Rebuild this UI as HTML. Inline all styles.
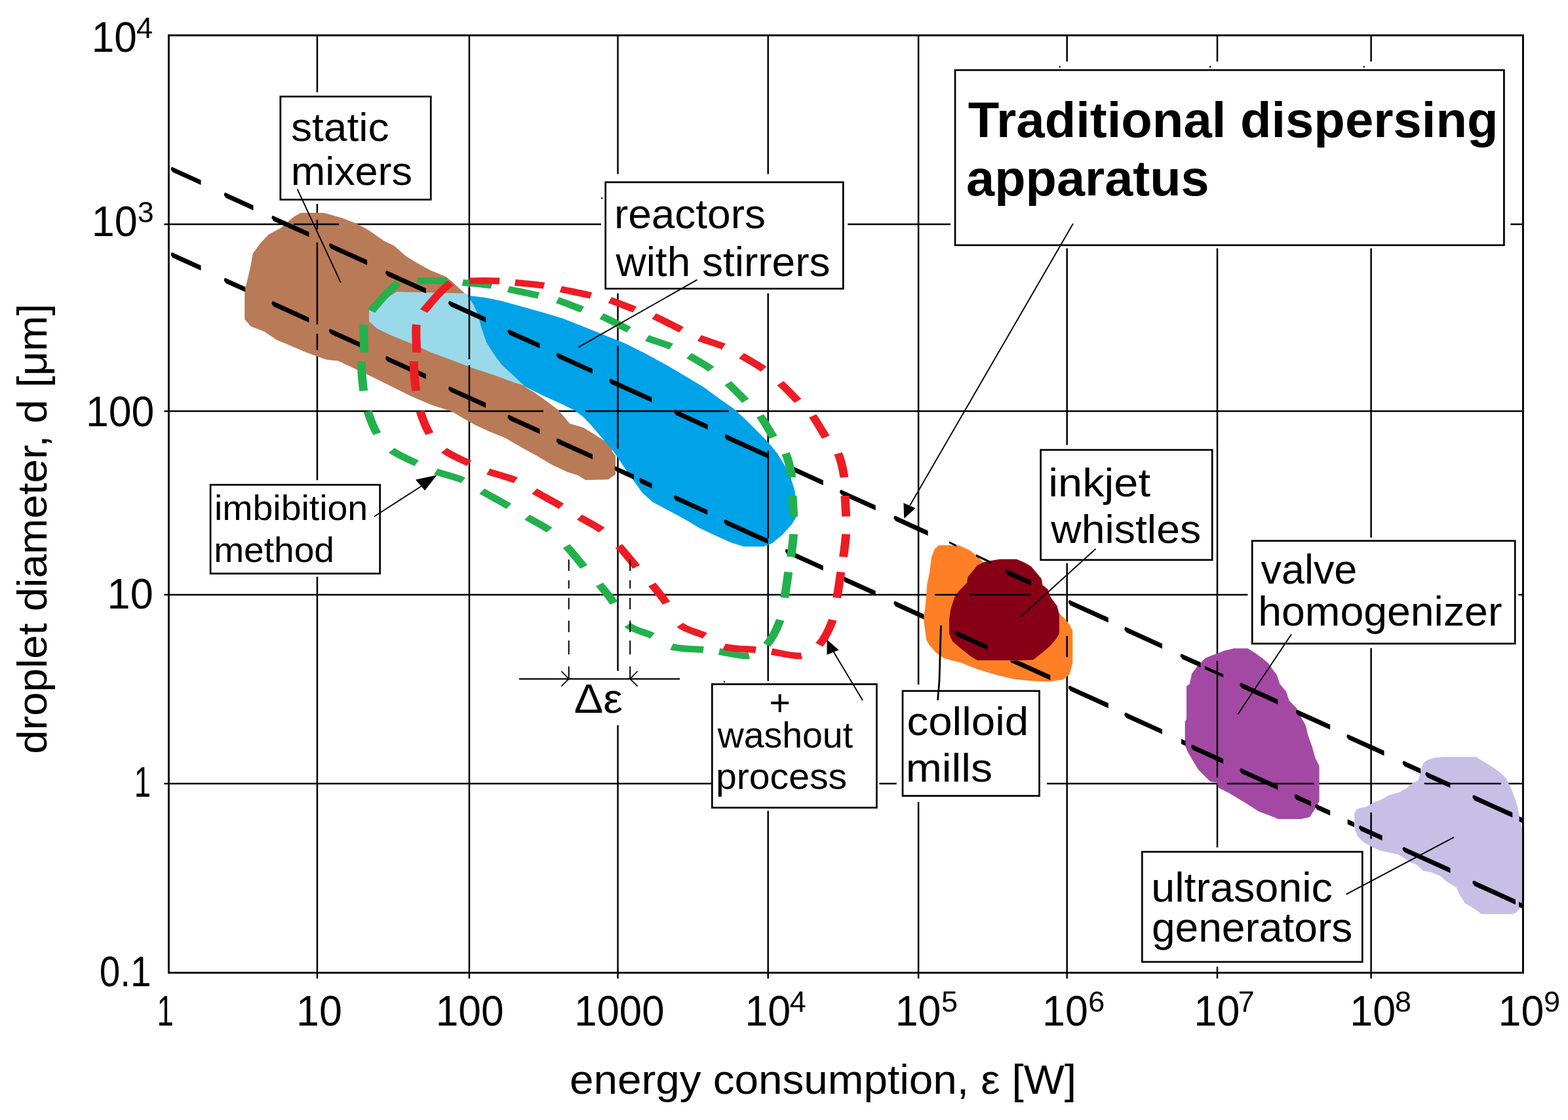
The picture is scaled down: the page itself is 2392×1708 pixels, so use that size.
<!DOCTYPE html>
<html lang="en"><head><meta charset="utf-8"><title>Traditional dispersing apparatus</title>
<style>
html,body{margin:0;padding:0;background:#fff;}
body{width:2392px;height:1708px;overflow:hidden;}
svg{display:block;font-family:'Liberation Sans', sans-serif;fill:#000;}
</style></head><body>
<svg width="2392" height="1708" viewBox="0 0 2392 1708">
<rect width="2392" height="1708" fill="#fff"/>
<line x1="483.9" y1="53.9" x2="483.9" y2="1492.3" stroke="#000" stroke-width="2.50" />
<line x1="715.9" y1="53.9" x2="715.9" y2="1492.3" stroke="#000" stroke-width="2.50" />
<line x1="942.5" y1="53.9" x2="942.5" y2="1492.3" stroke="#000" stroke-width="2.50" />
<line x1="1171.7" y1="53.9" x2="1171.7" y2="1492.3" stroke="#000" stroke-width="2.50" />
<line x1="1401.1" y1="53.9" x2="1401.1" y2="1492.3" stroke="#000" stroke-width="2.50" />
<line x1="1627.7" y1="53.9" x2="1627.7" y2="1492.3" stroke="#000" stroke-width="2.50" />
<line x1="1857.0" y1="53.9" x2="1857.0" y2="1492.3" stroke="#000" stroke-width="2.50" />
<line x1="2091.6" y1="53.9" x2="2091.6" y2="1492.3" stroke="#000" stroke-width="2.50" />
<line x1="250.4" y1="341.9" x2="2323.4" y2="341.9" stroke="#000" stroke-width="2.50" />
<line x1="250.4" y1="627.1" x2="2323.4" y2="627.1" stroke="#000" stroke-width="2.50" />
<line x1="250.4" y1="907.1" x2="2323.4" y2="907.1" stroke="#000" stroke-width="2.50" />
<line x1="250.4" y1="1195.1" x2="2323.4" y2="1195.1" stroke="#000" stroke-width="2.50" />
<rect x="257.4" y="53.9" width="2066.0" height="1429.5" fill="none" stroke="#000" stroke-width="2.9"/>
<path d="M458.7 324.5 L493.5 324.5 L522.0 332.4 L544.0 341.0 L561.5 350.6 L586.8 368.0 L601.0 374.4 L618.5 390.0 L632.7 399.0 L656.5 412.3 L680.0 421.8 L690.0 430.0 L704.0 442.7 L712.0 450.6 L760.0 520.0 L801.0 590.0 L814.0 597.7 L829.7 608.8 L842.4 618.3 L850.3 624.0 L858.2 633.0 L869.3 646.0 L890.0 652.0 L905.7 661.7 L920.0 671.0 L932.6 676.0 L934.0 688.6 L939.0 695.0 L939.0 723.4 L927.8 731.3 L893.0 732.0 L882.0 725.0 L866.0 720.0 L842.4 709.0 L818.7 695.0 L795.0 682.0 L771.0 668.0 L747.5 658.5 L723.7 647.5 L700.0 634.0 L690.0 627.8 L658.2 617.6 L626.6 604.1 L595.0 588.3 L563.3 572.5 L539.6 561.4 L515.8 550.3 L498.2 548.4 L466.6 537.3 L441.3 526.3 L422.3 518.4 L403.3 505.7 L382.7 497.8 L373.2 486.7 L373.2 442.4 L376.4 431.3 L381.9 407.6 L385.9 386.2 L398.5 369.6 L409.6 357.8 L428.6 347.5 L447.6 330.9Z" fill="#b97a57" />
<path d="M605.0 445.0 L712.0 447.5 L721.5 463.3 L729.4 479.1 L734.0 498.0 L742.0 521.8 L753.0 539.2 L765.8 556.6 L781.6 570.9 L800.6 588.3 L784.8 583.5 L753.0 571.7 L721.5 561.4 L690.0 549.5 L658.2 537.7 L626.6 523.4 L595.0 510.8 L575.0 501.0 L563.0 490.0 L563.0 472.0Z" fill="#99d9ea" />
<path d="M712.7 450.6 L739.6 453.7 L763.3 458.5 L795.0 467.2 L826.6 475.9 L858.2 485.4 L890.0 498.0 L921.5 510.7 L953.2 523.4 L984.8 539.2 L1016.5 556.6 L1042.4 571.8 L1074.0 590.8 L1097.8 608.2 L1118.4 622.4 L1137.3 639.8 L1156.3 658.8 L1172.0 674.6 L1186.8 692.7 L1196.3 708.5 L1205.8 727.5 L1212.0 746.5 L1215.3 768.6 L1215.3 787.6 L1207.4 800.3 L1193.0 816.0 L1177.3 828.7 L1164.7 833.5 L1134.6 833.5 L1114.0 827.0 L1090.0 816.0 L1066.6 805.0 L1042.8 790.8 L1019.0 778.0 L995.4 765.4 L979.6 751.2 L968.5 735.4 L955.8 718.0 L940.5 695.0 L932.6 684.0 L918.4 668.0 L901.0 647.5 L890.0 636.0 L877.2 626.2 L858.2 616.7 L826.6 602.5 L801.3 589.8 L781.6 570.9 L765.8 556.6 L753.0 539.2 L742.0 521.8 L734.0 498.0 L729.4 479.1 L721.5 463.3Z" fill="#00a2e8" />
<path d="M1432.2 831.4 L1462.3 831.4 L1478.0 838.5 L1490.8 848.0 L1500.0 857.5 L1560.0 900.0 L1614.0 933.4 L1623.7 943.0 L1631.6 952.4 L1636.3 962.0 L1636.3 1011.0 L1631.6 1028.4 L1622.0 1036.3 L1601.5 1039.4 L1574.6 1038.6 L1546.0 1035.5 L1522.4 1030.0 L1490.8 1020.4 L1467.0 1011.0 L1440.0 1003.8 L1427.5 995.0 L1418.0 984.0 L1413.2 976.0 L1410.0 952.4 L1408.5 941.3 L1410.9 930.3 L1413.2 908.0 L1414.0 892.3 L1418.0 873.3 L1421.0 849.6 L1425.9 837.0Z" fill="#ff7f27" />
<path d="M1500.3 857.5 L1511.3 855.0 L1525.6 852.7 L1550.9 852.7 L1562.0 857.5 L1573.0 863.8 L1581.0 873.3 L1588.9 882.8 L1590.4 892.3 L1598.4 898.6 L1603.0 911.3 L1612.6 924.0 L1615.8 936.6 L1615.8 966.6 L1611.0 974.6 L1601.5 985.6 L1590.4 995.0 L1576.2 1006.2 L1554.0 1007.0 L1490.8 1007.0 L1479.7 999.9 L1465.4 988.8 L1452.8 977.7 L1448.0 966.6 L1448.0 944.5 L1450.4 928.7 L1456.0 911.3 L1462.3 901.8 L1474.9 889.0 L1476.5 879.6 L1486.0 868.5 L1490.8 862.2Z" fill="#880015" />
<path d="M1882.8 988.7 L1903.4 988.7 L1914.5 995.8 L1925.6 1003.7 L1935.0 1011.6 L1941.4 1021.0 L1947.7 1029.0 L1952.5 1043.3 L1962.0 1054.4 L1966.7 1068.6 L1977.8 1079.7 L1985.7 1095.5 L1992.0 1106.6 L1995.2 1120.8 L2001.5 1138.2 L2006.3 1155.6 L2012.6 1168.3 L2012.6 1222.0 L2006.3 1233.2 L1998.0 1246.0 L1985.0 1249.0 L1950.0 1249.0 L1935.0 1243.0 L1919.2 1237.0 L1906.6 1228.4 L1890.8 1219.0 L1875.0 1209.4 L1859.0 1201.5 L1856.0 1193.6 L1846.5 1192.0 L1840.0 1185.7 L1827.5 1173.0 L1821.0 1162.0 L1811.6 1146.0 L1807.7 1136.6 L1807.7 1100.3 L1810.0 1097.0 L1810.0 1046.5 L1814.8 1043.3 L1818.0 1027.5 L1827.5 1014.8 L1838.5 1003.7 L1848.0 999.8 L1859.0 995.8 L1868.6 991.9Z" fill="#a349a4" />
<path d="M2202.9 1154.2 L2252.0 1154.2 L2264.6 1162.2 L2277.3 1170.0 L2288.3 1178.0 L2297.8 1187.5 L2304.0 1200.0 L2310.5 1216.0 L2315.2 1231.8 L2318.4 1247.6 L2321.5 1263.4 L2324.5 1266.6 L2324.5 1374.0 L2316.8 1386.8 L2313.6 1391.6 L2307.3 1394.0 L2259.8 1394.0 L2250.4 1386.8 L2234.5 1377.3 L2225.0 1361.5 L2221.9 1353.6 L2206.0 1344.0 L2198.0 1336.2 L2182.3 1329.9 L2171.2 1328.3 L2161.7 1318.8 L2152.3 1315.6 L2142.8 1309.3 L2133.3 1303.0 L2117.4 1299.8 L2103.2 1296.6 L2090.5 1290.3 L2079.5 1284.0 L2071.6 1276.0 L2066.8 1265.0 L2066.0 1241.3 L2070.0 1233.4 L2084.2 1230.2 L2095.3 1223.9 L2108.0 1219.0 L2119.0 1212.8 L2134.8 1208.0 L2145.9 1201.7 L2155.4 1193.8 L2163.3 1190.6 L2166.5 1179.6 L2171.2 1163.7 L2177.6 1159.0 L2187.0 1155.8Z" fill="#c8bfe7" />
<line x1="448.0" y1="341.9" x2="517.0" y2="341.9" stroke="#000" stroke-width="2.50" />
<line x1="483.9" y1="335.0" x2="483.9" y2="350.0" stroke="#000" stroke-width="2.50" />
<line x1="483.9" y1="369.6" x2="483.9" y2="494.6" stroke="#000" stroke-width="2.50" />
<line x1="483.9" y1="509.0" x2="483.9" y2="534.0" stroke="#000" stroke-width="2.50" />
<line x1="715.9" y1="439.5" x2="715.9" y2="547.9" stroke="#000" stroke-width="2.50" />
<line x1="715.9" y1="556.6" x2="715.9" y2="628.1" stroke="#000" stroke-width="2.50" />
<line x1="714.7" y1="627.1" x2="829.0" y2="627.1" stroke="#000" stroke-width="2.50" />
<line x1="893.0" y1="627.1" x2="1112.0" y2="627.1" stroke="#000" stroke-width="2.50" />
<line x1="942.5" y1="527.3" x2="942.5" y2="684.3" stroke="#000" stroke-width="2.50" />
<line x1="1171.7" y1="687.0" x2="1171.7" y2="820.8" stroke="#000" stroke-width="2.50" />
<line x1="1425.9" y1="907.1" x2="1461.5" y2="907.1" stroke="#000" stroke-width="2.50" />
<line x1="1479.7" y1="907.1" x2="1573.0" y2="907.1" stroke="#000" stroke-width="2.50" />
<line x1="1627.7" y1="969.8" x2="1627.7" y2="1002.2" stroke="#000" stroke-width="2.50" />
<line x1="1857.0" y1="1007.7" x2="1857.0" y2="1185.7" stroke="#000" stroke-width="2.50" />
<line x1="1871.8" y1="1195.1" x2="2004.7" y2="1195.1" stroke="#000" stroke-width="2.50" />
<line x1="2172.8" y1="1195.1" x2="2290.0" y2="1195.1" stroke="#000" stroke-width="2.50" />
<line x1="2091.6" y1="1238.9" x2="2091.6" y2="1279.2" stroke="#000" stroke-width="2.50" />
<line x1="2323.4" y1="1260.0" x2="2323.4" y2="1380.0" stroke="#000" stroke-width="2.90" />
<path d="M260.7 256.4 L262.2 254.4 L306.5 274.4 L306.5 282.1 L263.2 262.5 L262.2 260.6 L260.7 259.1Z" fill="#000" />
<path d="M341.9 295.5 L343.4 293.5 L386.5 313.0 L386.5 320.7 L344.4 301.7 L343.4 299.7 L341.9 298.2Z" fill="#000" />
<path d="M414.5 330.7 L416.0 328.7 L471.5 353.8 L471.5 361.5 L417.0 336.9 L416.0 334.9 L414.5 333.4Z" fill="#000" />
<path d="M502.0 372.9 L503.5 370.9 L560.1 396.5 L560.1 404.2 L504.5 379.1 L503.5 377.1 L502.0 375.6Z" fill="#000" />
<path d="M588.2 414.6 L589.7 412.6 L650.0 439.8 L650.0 447.5 L590.7 420.7 L589.7 418.8 L588.2 417.3Z" fill="#000" />
<path d="M684.2 460.8 L685.7 458.8 L741.1 483.8 L741.1 491.5 L686.7 466.9 L685.7 465.0 L684.2 463.5Z" fill="#000" />
<path d="M774.5 504.2 L776.0 502.2 L823.4 523.6 L823.4 531.3 L777.0 510.4 L776.0 508.4 L774.5 506.9Z" fill="#000" />
<path d="M848.8 540.1 L850.3 538.1 L904.0 562.4 L904.0 570.1 L851.3 546.3 L850.3 544.3 L848.8 542.8Z" fill="#000" />
<path d="M929.5 579.2 L931.0 577.2 L994.3 605.8 L994.3 613.5 L932.0 585.4 L931.0 583.4 L929.5 581.9Z" fill="#000" />
<path d="M1028.2 626.6 L1029.7 624.6 L1079.6 647.2 L1079.6 654.9 L1030.7 632.8 L1029.7 630.8 L1028.2 629.3Z" fill="#000" />
<path d="M1105.8 664.3 L1107.3 662.3 L1171.4 691.2 L1171.4 698.9 L1108.3 670.4 L1107.3 668.5 L1105.8 667.0Z" fill="#000" />
<path d="M1209.1 713.8 L1210.6 711.8 L1255.7 732.2 L1255.7 739.9 L1211.6 719.9 L1210.6 718.0 L1209.1 716.5Z" fill="#000" />
<path d="M1281.2 748.7 L1282.7 746.7 L1335.7 770.6 L1335.7 778.3 L1283.7 754.8 L1282.7 752.9 L1281.2 751.4Z" fill="#000" />
<path d="M1363.5 788.3 L1365.0 786.3 L1415.6 809.2 L1415.6 816.9 L1366.0 794.5 L1365.0 792.5 L1363.5 791.0Z" fill="#000" />
<path d="M1534.4 870.6 L1535.9 868.6 L1573.0 885.3 L1573.0 893.0 L1536.9 876.7 L1535.9 874.8 L1534.4 873.3Z" fill="#000" />
<path d="M1629.9 917.0 L1631.4 915.0 L1690.8 941.8 L1690.8 949.5 L1632.4 923.1 L1631.4 921.2 L1629.9 919.7Z" fill="#000" />
<path d="M1715.4 958.1 L1716.9 956.1 L1773.0 981.5 L1773.0 989.2 L1717.9 964.3 L1716.9 962.3 L1715.4 960.8Z" fill="#000" />
<path d="M1800.8 998.9 L1802.3 996.9 L1831.5 1010.1 L1831.5 1017.8 L1803.3 1005.1 L1802.3 1003.1 L1800.8 1001.6Z" fill="#000" />
<path d="M1891.5 1043.1 L1893.0 1041.1 L1949.3 1066.5 L1949.3 1074.2 L1894.0 1049.2 L1893.0 1047.3 L1891.5 1045.8Z" fill="#000" />
<path d="M1977.1 1084.3 L1978.6 1082.3 L2029.2 1105.1 L2029.2 1112.8 L1979.6 1090.4 L1978.6 1088.5 L1977.1 1087.0Z" fill="#000" />
<path d="M2054.5 1121.7 L2056.0 1119.7 L2111.5 1144.8 L2111.5 1152.5 L2057.0 1127.8 L2056.0 1125.9 L2054.5 1124.4Z" fill="#000" />
<path d="M2139.7 1162.3 L2141.2 1160.3 L2167.3 1172.1 L2167.3 1179.8 L2142.2 1168.5 L2141.2 1166.5 L2139.7 1165.0Z" fill="#000" />
<path d="M2174.5 1179.3 L2176.0 1177.3 L2212.4 1193.7 L2212.4 1201.4 L2177.0 1185.4 L2176.0 1183.5 L2174.5 1182.0Z" fill="#000" />
<path d="M2246.5 1214.3 L2248.0 1212.3 L2307.3 1239.1 L2307.3 1246.8 L2249.0 1220.5 L2248.0 1218.5 L2246.5 1217.0Z" fill="#000" />
<path d="M2317.6 1245.1 L2323.6 1247.8 L2323.6 1255.5 L2317.6 1252.8Z" fill="#000" />
<path d="M260.7 386.8 L262.2 384.8 L306.5 404.8 L306.5 412.5 L263.2 392.9 L262.2 391.0 L260.7 389.5Z" fill="#000" />
<path d="M341.9 425.7 L343.4 423.7 L374.2 437.6 L374.2 445.3 L344.4 431.9 L343.4 429.9 L341.9 428.4Z" fill="#000" />
<path d="M414.5 461.1 L416.0 459.1 L471.5 484.2 L471.5 491.9 L417.0 467.3 L416.0 465.3 L414.5 463.8Z" fill="#000" />
<path d="M502.0 503.2 L503.5 501.2 L549.0 521.7 L549.0 529.4 L504.5 509.3 L503.5 507.4 L502.0 505.9Z" fill="#000" />
<path d="M588.2 545.0 L589.7 543.0 L650.0 570.2 L650.0 577.9 L590.7 551.1 L589.7 549.2 L588.2 547.7Z" fill="#000" />
<path d="M684.2 591.2 L685.7 589.2 L741.1 614.2 L741.1 621.9 L686.7 597.3 L685.7 595.4 L684.2 593.9Z" fill="#000" />
<path d="M774.5 634.6 L776.0 632.6 L823.4 654.0 L823.4 661.7 L777.0 640.8 L776.0 638.8 L774.5 637.3Z" fill="#000" />
<path d="M848.8 670.5 L850.3 668.5 L904.0 692.8 L904.0 700.5 L851.3 676.7 L850.3 674.7 L848.8 673.2Z" fill="#000" />
<path d="M937.5 712.9 L939.0 710.9 L967.0 723.6 L967.0 731.3 L940.0 719.1 L939.0 717.1 L937.5 715.6Z" fill="#000" />
<path d="M974.9 730.8 L976.4 728.8 L994.6 737.1 L994.6 744.8 L977.4 737.0 L976.4 735.0 L974.9 733.5Z" fill="#000" />
<path d="M1027.9 756.9 L1029.4 754.9 L1079.2 777.4 L1079.2 785.1 L1030.4 763.0 L1029.4 761.1 L1027.9 759.6Z" fill="#000" />
<path d="M1104.5 794.1 L1106.0 792.1 L1171.7 821.7 L1171.7 829.4 L1107.0 800.2 L1106.0 798.3 L1104.5 796.8Z" fill="#000" />
<path d="M1198.0 839.0 L1199.5 837.0 L1255.7 862.4 L1255.7 870.1 L1200.5 845.2 L1199.5 843.2 L1198.0 841.7Z" fill="#000" />
<path d="M1286.0 881.3 L1287.5 879.3 L1335.7 901.1 L1335.7 908.8 L1288.5 887.5 L1287.5 885.5 L1286.0 884.0Z" fill="#000" />
<path d="M1363.5 918.6 L1365.0 916.6 L1409.3 936.7 L1409.3 944.4 L1366.0 924.8 L1365.0 922.8 L1363.5 921.3Z" fill="#000" />
<path d="M1456.8 963.7 L1458.3 961.7 L1506.6 983.5 L1506.6 991.2 L1459.3 969.9 L1458.3 967.9 L1456.8 966.4Z" fill="#000" />
<path d="M1629.9 1047.4 L1631.4 1045.4 L1690.8 1072.2 L1690.8 1079.9 L1632.4 1053.5 L1631.4 1051.6 L1629.9 1050.1Z" fill="#000" />
<path d="M1715.4 1088.5 L1716.9 1086.5 L1773.0 1111.9 L1773.0 1119.6 L1717.9 1094.7 L1716.9 1092.7 L1715.4 1091.2Z" fill="#000" />
<path d="M1802.0 1126.8 L1808.5 1129.8 L1808.5 1137.5 L1802.0 1134.5Z" fill="#000" />
<path d="M1817.3 1137.6 L1818.8 1135.6 L1866.2 1157.0 L1866.2 1164.7 L1819.8 1143.7 L1818.8 1141.8 L1817.3 1140.3Z" fill="#000" />
<path d="M1891.5 1173.5 L1893.0 1171.5 L1949.3 1196.9 L1949.3 1204.6 L1894.0 1179.6 L1893.0 1177.7 L1891.5 1176.2Z" fill="#000" />
<path d="M1974.7 1213.1 L1976.2 1211.1 L2000.0 1221.9 L2000.0 1229.6 L1977.2 1219.3 L1976.2 1217.3 L1974.7 1215.8Z" fill="#000" />
<path d="M2006.3 1228.3 L2007.8 1226.3 L2029.2 1236.0 L2029.2 1243.7 L2008.8 1234.5 L2007.8 1232.5 L2006.3 1231.0Z" fill="#000" />
<path d="M2055.7 1249.3 L2066.0 1253.9 L2066.0 1261.6 L2055.7 1257.0Z" fill="#000" />
<path d="M2073.2 1260.8 L2074.7 1258.8 L2108.7 1274.1 L2108.7 1281.8 L2075.7 1266.9 L2074.7 1265.0 L2073.2 1263.5Z" fill="#000" />
<path d="M2139.7 1293.4 L2141.2 1291.4 L2212.4 1323.6 L2212.4 1331.3 L2142.2 1299.6 L2141.2 1297.6 L2139.7 1296.1Z" fill="#000" />
<path d="M2246.5 1344.8 L2248.0 1342.8 L2312.0 1371.7 L2312.0 1379.4 L2249.0 1351.0 L2248.0 1349.0 L2246.5 1347.5Z" fill="#000" />
<path d="M2317.0 1375.2 L2323.6 1378.2 L2323.6 1385.9 L2317.0 1382.9Z" fill="#000" />
<clipPath id="cw"><rect x="1530" y="1007.5" width="90" height="40"/></clipPath><g clip-path="url(#cw)">
<path d="M1541.4 1002.0 L1602.3 1029.5 L1602.3 1037.2 L1541.4 1009.7Z" fill="#000" />
</g>
<path d="M1837.8 1015.4 L1866.2 1028.2 L1866.2 1033.2 L1837.8 1020.4Z" fill="#000" />
<path d="M1448.0 825.5 L1459.0 830.8 L1459.0 833.8 L1448.0 828.5Z" fill="#000" />
<path d="M1489.0 845.2 L1511.5 856.1 L1511.5 859.6 L1489.0 848.7Z" fill="#000" />
<path transform="scale(1.300,1)" d="M427.23 537.5C427.74 528.2 425.81 505.5 427.23 495.0 M435.77 474.4C442.46 463.8 458.47 439.2 467.38 431.6 M489.23 428.5C498.77 428.0 515.68 428.1 524.62 428.5 M542.85 430.9C551.56 432.1 568.00 433.9 576.92 435.6 M596.38 441.0C605.55 443.5 622.31 447.8 631.92 450.6 M654.08 457.7C662.64 461.3 674.68 467.9 683.31 472.0 M705.85 482.2C714.97 487.3 729.18 497.2 738.08 502.8 M759.23 515.5C767.50 519.8 779.49 524.0 787.69 528.5 M808.46 542.5C816.28 548.2 827.00 556.0 834.62 563.0 M854.15 584.4C860.86 592.4 868.55 603.0 874.85 611.3 M891.92 634.3C897.40 643.5 902.69 657.2 907.69 666.7 M921.92 691.5C925.51 701.7 927.88 717.2 929.23 728.0 M930.00 756.0C930.33 765.9 931.03 777.9 931.23 787.6 M931.23 814.5C930.72 824.8 929.15 839.6 928.15 849.3 M925.23 872.4C923.97 882.8 922.22 899.4 920.62 911.6 M915.62 945.4C912.14 957.4 905.86 974.3 899.77 983.4 M879.08 1000.0C869.76 1001.7 852.79 995.2 843.85 993.7 M825.38 991.0C816.09 989.8 798.05 989.8 788.08 986.2 M765.54 969.6C756.91 964.1 743.82 961.3 736.31 953.0 M720.46 919.7C714.99 909.4 709.33 900.5 703.46 891.3 M685.23 864.4C678.74 854.6 671.31 842.0 664.54 832.7 M644.62 808.4C636.94 801.0 626.37 794.7 618.46 788.6 M597.15 772.0C588.33 765.4 574.46 755.6 565.54 749.0 M543.62 732.5C534.59 727.5 520.51 723.4 511.38 719.0 M488.85 706.4C480.22 701.0 467.32 694.1 459.62 686.6 M442.62 661.3C437.94 651.4 434.21 638.1 431.54 627.2 M426.62 596.0C425.38 583.3 424.05 560.8 424.15 551.0" fill="none" stroke="#22b14c" stroke-width="10.0"/>
<path transform="scale(1.300,1)" d="M488.77 537.5C489.28 528.2 487.35 505.5 488.77 495.0 M497.31 474.4C504.00 463.8 520.01 439.2 528.92 431.6 M550.77 428.5C560.31 428.0 577.22 428.1 586.15 428.5 M604.38 430.9C613.10 432.1 629.54 433.9 638.46 435.6 M657.92 441.0C667.09 443.5 683.85 447.8 693.46 450.6 M715.62 457.7C724.18 461.3 736.22 467.9 744.85 472.0 M767.38 482.2C776.51 487.3 790.72 497.2 799.62 502.8 M820.77 515.5C829.04 519.8 841.03 524.0 849.23 528.5 M870.00 542.5C877.82 548.2 888.54 556.0 896.15 563.0 M915.69 584.4C922.40 592.4 930.09 603.0 936.38 611.3 M953.46 634.3C958.94 643.5 964.23 657.2 969.23 666.7 M983.46 691.5C987.05 701.7 989.42 717.2 990.77 728.0 M991.54 756.0C991.87 765.9 992.56 777.9 992.77 787.6 M992.77 814.5C992.26 824.8 990.69 839.6 989.69 849.3 M986.77 872.4C985.51 882.8 983.76 899.4 982.15 911.6 M977.15 945.4C973.68 957.4 967.40 974.3 961.31 983.4 M940.62 1000.0C931.29 1001.7 914.33 995.2 905.38 993.7 M886.92 991.0C877.63 989.8 859.59 989.8 849.62 986.2 M827.08 969.6C818.45 964.1 805.36 961.3 797.85 953.0 M782.00 919.7C776.53 909.4 770.87 900.5 765.00 891.3 M746.77 864.4C740.28 854.6 732.85 842.0 726.08 832.7 M706.15 808.4C698.47 801.0 687.91 794.7 680.00 788.6 M658.69 772.0C649.87 765.4 636.00 755.6 627.08 749.0 M605.15 732.5C596.13 727.5 582.05 723.4 572.92 719.0 M550.38 706.4C541.76 701.0 528.86 694.1 521.15 686.6 M504.15 661.3C499.47 651.4 495.74 638.1 493.08 627.2 M488.15 596.0C486.92 583.3 485.59 560.8 485.69 551.0" fill="none" stroke="#ed1c24" stroke-width="10.0"/>
<rect x="936" y="1023" width="13" height="83" fill="#fff"/>
<path d="M867.7 853.3V870.7M867.7 884.9V897.6M867.7 911.8V929.2M867.7 946.6V964.0M867.7 976.7V998.0M867.7 1016.3V1035.3M961.2 853.3V870.7M961.2 884.9V897.6M961.2 911.8V929.2M961.2 946.6V964.0M961.2 976.7V998.0M961.2 1016.3V1035.3" fill="none" stroke="#000" stroke-width="2.0"/>
<line x1="791.9" y1="1035.3" x2="1037.0" y2="1035.3" stroke="#000" stroke-width="2.30" />
<path d="M856.3 1023.5L867.7 1035.3L856.3 1046.6M972.6 1023.5L961.2 1035.3L972.6 1046.6" fill="none" stroke="#000" stroke-width="1.7"/>
<text transform="translate(875.80,1086.60) scale(1.0577,1.0000)" font-size="63.00">Δε</text>
<text transform="translate(239.48,1564.00) scale(0.7288,1.0350)" font-size="62.50">1</text>
<text transform="translate(451.99,1564.00) scale(1.0041,1.0350)" font-size="62.50">10</text>
<text transform="translate(664.74,1564.00) scale(0.9950,1.0350)" font-size="62.50">100</text>
<text transform="translate(876.28,1564.00) scale(0.9865,1.0350)" font-size="62.50">1000</text>
<text transform="translate(1136.39,1564.00) scale(1.0041,1.0350)" font-size="62.50">10</text>
<text transform="translate(1204.79,1542.70) scale(1.0000,1.0000)" font-size="45.00">4</text>
<text transform="translate(1365.69,1564.00) scale(1.0041,1.0350)" font-size="62.50">10</text>
<text transform="translate(1436.10,1542.70) scale(1.0000,1.0000)" font-size="45.00">5</text>
<text transform="translate(1589.99,1564.00) scale(1.0041,1.0350)" font-size="62.50">10</text>
<text transform="translate(1660.15,1542.70) scale(1.0000,1.0000)" font-size="45.00">6</text>
<text transform="translate(1821.49,1564.00) scale(1.0041,1.0350)" font-size="62.50">10</text>
<text transform="translate(1888.75,1542.70) scale(1.0000,1.0000)" font-size="45.00">7</text>
<text transform="translate(2059.29,1564.00) scale(1.0041,1.0350)" font-size="62.50">10</text>
<text transform="translate(2127.89,1542.70) scale(1.0000,1.0000)" font-size="45.00">8</text>
<text transform="translate(2285.59,1564.00) scale(1.0041,1.0350)" font-size="62.50">10</text>
<text transform="translate(2355.06,1542.70) scale(1.0000,1.0000)" font-size="45.00">9</text>
<text transform="translate(139.74,79.10) scale(0.9945,1.0350)" font-size="62.50">10</text>
<text transform="translate(207.99,57.80) scale(1.0000,1.0000)" font-size="45.00">4</text>
<text transform="translate(139.78,360.40) scale(1.0073,1.0350)" font-size="62.50">10</text>
<text transform="translate(209.81,339.10) scale(1.0000,1.0000)" font-size="45.00">3</text>
<text transform="translate(130.90,649.50) scale(1.0022,1.0350)" font-size="62.50">100</text>
<text transform="translate(163.57,928.20) scale(1.0089,1.0350)" font-size="62.50">10</text>
<text transform="translate(204.78,1214.70) scale(0.7288,1.0350)" font-size="62.50">1</text>
<text transform="translate(151.73,1503.70) scale(0.9078,1.0350)" font-size="62.50">0.1</text>
<text transform="translate(869.01,1667.60) scale(1.0332,1.0000)" font-size="63.50">energy consumption, ε [W]</text>
<text transform="translate(70.90,1149.87) rotate(-90) scale(1.0443,1)" font-size="62.50">droplet diameter, d [μm]</text>
<rect x="421.8" y="140.6" width="241.4" height="170.4" fill="#fff"/>
<rect x="427.8" y="147.2" width="229.4" height="157.2" fill="#fff" stroke="#000" stroke-width="2.7"/>
<text transform="translate(443.94,215.00) scale(1.0335,1.0000)" font-size="62.00">static</text>
<text transform="translate(443.75,281.50) scale(1.0151,1.0000)" font-size="62.00">mixers</text>
<rect x="917.0" y="265.5" width="376.3" height="181.8" fill="#fff"/>
<rect x="923.7" y="277.9" width="362.6" height="162.3" fill="#fff" stroke="#000" stroke-width="2.7"/>
<text transform="translate(936.94,348.30) scale(1.0231,1.0000)" font-size="62.50">reactors</text>
<text transform="translate(939.46,420.50) scale(1.0236,1.0000)" font-size="62.50">with stirrers</text>
<rect x="1450.0" y="93.8" width="854.3" height="284.9" fill="#fff"/>
<rect x="1457.0" y="106.9" width="837.4" height="267.0" fill="#fff" stroke="#000" stroke-width="2.7"/>
<text transform="translate(1476.82,208.60) scale(1.0243,1.0000)" font-size="76.00" font-weight="bold">Traditional dispersing</text>
<text transform="translate(1474.07,297.60) scale(1.0205,1.0000)" font-size="76.00" font-weight="bold">apparatus</text>
<rect x="315.1" y="732.3" width="270.5" height="147.3" fill="#fff"/>
<rect x="321.1" y="739.3" width="258.5" height="135.4" fill="#fff" stroke="#000" stroke-width="2.7"/>
<text transform="translate(327.06,793.00) scale(1.0169,1.0000)" font-size="54.50">imbibition</text>
<text transform="translate(326.18,857.10) scale(1.0116,1.0000)" font-size="54.50">method</text>
<rect x="1086.3" y="1038.5" width="255.1" height="198.1" fill="#fff"/>
<rect x="1086.3" y="1043.4" width="251.1" height="188.3" fill="#fff" stroke="#000" stroke-width="2.7"/>
<text transform="translate(1173.56,1090.80) scale(1.0107,1.0000)" font-size="55.00">+</text>
<text transform="translate(1094.64,1140.10) scale(1.0078,1.0000)" font-size="55.00">washout</text>
<text transform="translate(1091.98,1203.40) scale(1.0393,1.0000)" font-size="55.00">process</text>
<rect x="1367.7" y="1044.1" width="229.4" height="179.0" fill="#fff"/>
<rect x="1377.0" y="1053.7" width="208.5" height="160.0" fill="#fff" stroke="#000" stroke-width="2.7"/>
<text transform="translate(1383.41,1120.90) scale(1.0570,1.0000)" font-size="62.00">colloid</text>
<text transform="translate(1381.74,1192.30) scale(1.0668,1.0000)" font-size="62.00">mills</text>
<rect x="1581.6" y="678.6" width="273.6" height="180.1" fill="#fff"/>
<rect x="1587.6" y="686.1" width="261.6" height="167.8" fill="#fff" stroke="#000" stroke-width="2.7"/>
<text transform="translate(1599.30,756.50) scale(1.0755,1.0000)" font-size="62.00">inkjet</text>
<text transform="translate(1603.36,827.50) scale(1.0373,1.0000)" font-size="62.00">whistles</text>
<rect x="1903.4" y="819.8" width="412.9" height="168.5" fill="#fff"/>
<rect x="1910.2" y="824.8" width="401.0" height="156.7" fill="#fff" stroke="#000" stroke-width="2.7"/>
<text transform="translate(1923.54,890.20) scale(1.0058,1.0000)" font-size="62.50">valve</text>
<text transform="translate(1919.19,953.80) scale(1.0300,1.0000)" font-size="62.50">homogenizer</text>
<rect x="1736.3" y="1292.3" width="348.0" height="182.0" fill="#fff"/>
<rect x="1742.3" y="1299.0" width="336.0" height="167.9" fill="#fff" stroke="#000" stroke-width="2.7"/>
<text transform="translate(1756.20,1374.90) scale(1.0347,1.0000)" font-size="62.50">ultrasonic</text>
<text transform="translate(1756.88,1435.60) scale(1.0258,1.0000)" font-size="62.50">generators</text>
<line x1="453.6" y1="288.3" x2="519.5" y2="430.3" stroke="#000" stroke-width="1.90" />
<line x1="1063.5" y1="426.7" x2="882.7" y2="529.3" stroke="#000" stroke-width="1.90" />
<line x1="1671.5" y1="837.0" x2="1557.2" y2="940.5" stroke="#000" stroke-width="1.90" />
<line x1="1970.0" y1="967.3" x2="1888.4" y2="1089.2" stroke="#000" stroke-width="1.90" />
<line x1="2053.5" y1="1363.9" x2="2217.9" y2="1276.9" stroke="#000" stroke-width="1.90" />
<path d="M1435.4 954L1433 1038L1430.5 1068" fill="none" stroke="#000" stroke-width="2.8"/>
<line x1="1637.0" y1="341.0" x2="1388.0" y2="771.0" stroke="#000" stroke-width="1.90" />
<path d="M1379.2 790.8 L1378.4 767.0 L1396.6 775.0Z" fill="#000" />
<line x1="570.8" y1="787.7" x2="645.0" y2="740.0" stroke="#000" stroke-width="1.90" />
<path d="M666.6 724.4 L634.0 731.4 L648.1 748.1Z" fill="#000" />
<line x1="1316.0" y1="1068.0" x2="1268.0" y2="988.0" stroke="#000" stroke-width="1.90" />
<path d="M1261.5 975.5 L1261.5 998.4 L1279.7 991.3Z" fill="#000" />
<rect x="1615.6" y="100.6" width="2.4" height="2.4" fill="#222"/>
<rect x="1845.0" y="100.6" width="2.4" height="2.4" fill="#222"/>
<rect x="2079.6" y="100.6" width="2.4" height="2.4" fill="#222"/>
<rect x="917.0" y="301.0" width="2.4" height="2.4" fill="#222"/>
<rect x="1103.6" y="1038.5" width="2.4" height="2.4" fill="#222"/>
</svg>
</body></html>
